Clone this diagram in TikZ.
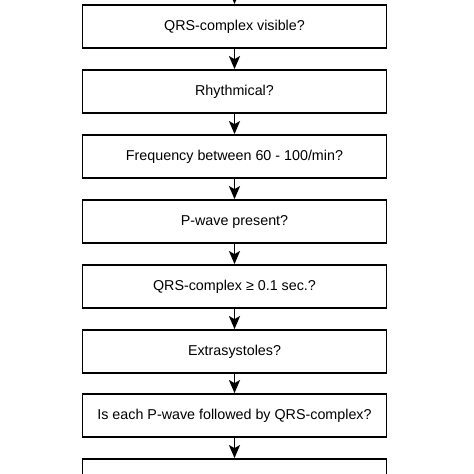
\documentclass[tikz,border=0pt]{standalone}
\usepackage{fontspec}
\setmainfont{Liberation Sans}
\usetikzlibrary{arrows.meta}
\begin{document}
\begin{tikzpicture}[x=1pt,y=-1pt,
  stepbox/.style={draw=black, line width=1.8pt, minimum width=304pt, minimum height=43pt, inner sep=0pt, font=\fontsize{14.3}{16}\selectfont, fill=white},
  conn/.style={line width=1.8pt, -{Stealth[length=13pt,width=11pt,inset=3pt]}}]
\clip (0,0) rectangle (474,474);
\fill[white] (0,0) rectangle (474,474);
\node[stepbox] (b1) at (234.5,26.5) {QRS-complex visible?};
\node[stepbox] (b2) at (234.5,91.5) {Rhythmical?};
\node[stepbox] (b3) at (234.5,156.5) {Frequency between 60 - 100/min?};
\node[stepbox] (b4) at (234.5,221.5) {P-wave present?};
\node[stepbox] (b5) at (234.5,286.5) {QRS-complex ≥ 0.1 sec.?};
\node[stepbox] (b6) at (234.5,351.5) {Extrasystoles?};
\node[stepbox] (b7) at (234.5,415.5) {Is each P-wave followed by QRS-complex?};
\node[stepbox] (b8) at (234.5,480.5) {};
\coordinate (top) at (234.5,-8);
\draw[conn] (top) -- (b1);
\draw[conn] (b1) -- (b2);
\draw[conn] (b2) -- (b3);
\draw[conn] (b3) -- (b4);
\draw[conn] (b4) -- (b5);
\draw[conn] (b5) -- (b6);
\draw[conn] (b6) -- (b7);
\draw[conn] (b7) -- (b8);
\end{tikzpicture}
\end{document}
